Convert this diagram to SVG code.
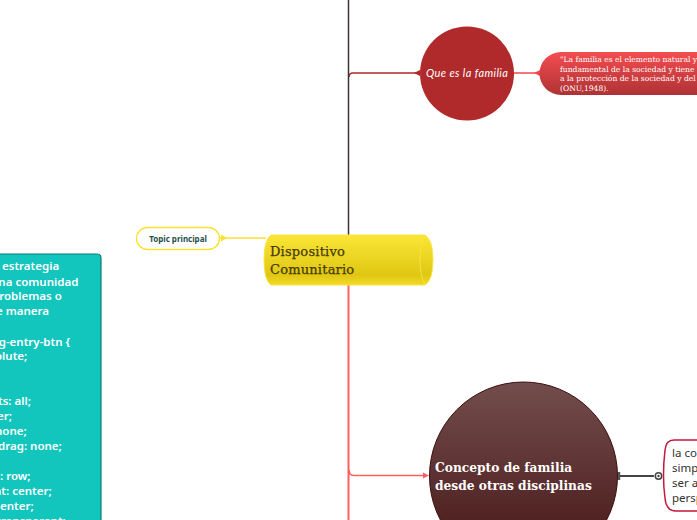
<svg xmlns="http://www.w3.org/2000/svg" width="697" height="520" viewBox="0 0 697 520">
<style>
.conn{fill:none;stroke-width:1.5}
.teal{font:600 11.5px "Noto Sans","Open Sans",sans-serif;fill:#fff}
.quote{font:7.6px "DejaVu Serif","Liberation Serif",serif;fill:#fff}
.main{font:13px "DejaVu Serif",serif;fill:#4a4008;stroke:#3a3208;stroke-width:.25;letter-spacing:.2px}
.conc{font:bold 13.600px "DejaVu Serif Condensed","DejaVu Serif",serif;fill:#fff}
.lc{font:11.5px "Noto Sans","Open Sans",sans-serif;fill:#333}
</style>
<defs>
<linearGradient id="gy" x1="0" y1="0" x2="0" y2="1"><stop offset="0" stop-color="#fbe636"/><stop offset="0.8" stop-color="#e0c714"/><stop offset="1" stop-color="#f2d925"/></linearGradient>
<linearGradient id="gr" x1="0" y1="0" x2="0" y2="1"><stop offset="0" stop-color="#f44d50"/><stop offset="1" stop-color="#ae3234"/></linearGradient>
<linearGradient id="gb" x1="0" y1="0" x2="0" y2="1"><stop offset="0" stop-color="#734d4d"/><stop offset="1" stop-color="#451414"/></linearGradient>
</defs>
<g id="connectors">
<path d="M349 77Q349 73 353 73H416" stroke="#b02a2c" class="conn"/>
<path d="M348.500 0V236" stroke="#3a3030" class="conn"/>
<path d="M348.500 285V520" stroke="#ff5f5f" fill="none" stroke-width="2"/>
<path d="M414 73L420 70V76Z" fill="#b02a2c"/>
<path d="M514 73H540" stroke="#f4474a" class="conn"/>
<path d="M534 73L540 70V76Z" fill="#f4474a"/>
<path d="M220 238H266" stroke="#fbe22e" class="conn"/>
<path d="M221 234.500L227 238L221 241.500Z" fill="#fbe22e"/>
<path d="M349 470Q349 475.500 354 475.500H424" stroke="#ff5f5f" class="conn"/>
<path d="M423 472.500L429 475.500L423 478.500Z" fill="#ff5f5f"/>
<path d="M619 476H654" stroke="#444" stroke-width="2" fill="none"/>
<path d="M619 472V480" stroke="#555" stroke-width="2.500" fill="none"/>
<circle cx="658.500" cy="476" r="3.200" fill="#fff" stroke="#444" stroke-width="1.500"/>
<circle cx="658.500" cy="476" r="1.200" fill="#444"/>
</g>
<g id="node-familia">
<circle cx="467" cy="73.500" r="47" fill="#b0292b"/>
<text x="426" y="77" font-family="Lato,'Noto Sans',sans-serif" font-style="italic" font-size="11" letter-spacing=".4" fill="#fff">Que es la familia</text>
</g>
<g id="node-quote">
<path d="M561 52H697V95H561A21.500 21.500 0 0 1 561 52Z" fill="url(#gr)"/>
<text class="quote"><tspan x="560" y="62">"La familia es el elemento natural y</tspan><tspan x="560" y="72">fundamental de la sociedad y tiene</tspan><tspan x="560" y="81">a la protección de la sociedad y del</tspan><tspan x="560" y="91">(ONU,1948).</tspan></text>
</g>
<g id="node-topic">
<rect x="136.500" y="227.500" width="83" height="22" rx="11" fill="#fff" stroke="#fbe22e" stroke-width="1.300"/>
<text x="178" y="241.500" text-anchor="middle" font-family="'Noto Sans',sans-serif" font-weight="700" font-size="8" fill="#1f4f4a">Topic principal</text>
</g>
<g id="node-main">
<path d="M271 235H425Q433 240 433 260T425 285H271Q264 280 264 260T271 235Z" fill="url(#gy)" stroke="#f8e640" stroke-width="1"/>
<path d="M425 235Q420 245 420 260T425 285" fill="none" stroke="#f6e53c" stroke-width="1"/>
<text class="main"><tspan x="270" y="256">Dispositivo</tspan><tspan x="270" y="274">Comunitario</tspan></text>
</g>
<g id="node-concepto">
<circle cx="523.500" cy="476" r="94" fill="url(#gb)" stroke="#3c0d0d" stroke-width="1"/>
<text class="conc"><tspan x="435" y="472">Concepto de familia</tspan><tspan x="435" y="490">desde otras disciplinas</tspan></text>
</g>
<g id="node-right">
<path d="M697 440H674Q666 440 665 450Q662 476 665 498Q666 511 676 511H697" fill="#fff" stroke="#c4183c" stroke-width="1.500"/>
<text class="lc"><tspan x="672" y="457">la co</tspan><tspan x="672" y="472">simp</tspan><tspan x="672" y="487">ser a</tspan><tspan x="672" y="502">persp</tspan></text>
</g>
<g id="node-teal">
<path d="M-5 254H97Q101 254 101 258V525H-5Z" fill="#12c5bd" stroke="#0b7d78" stroke-width="1.200"/>
<text class="teal"><tspan x="2" y="270">estrategia</tspan><tspan x="-9" y="285.500">una comunidad</tspan><tspan x="-8" y="300">problemas o</tspan><tspan x="-4" y="315">e manera</tspan><tspan x="-8" y="346">ag-entry-btn {</tspan><tspan x="-5" y="360">olute;</tspan><tspan x="-2" y="405">ts: all;</tspan><tspan x="-3" y="420">er;</tspan><tspan x="-5" y="435">none;</tspan><tspan x="-2" y="450">drag: none;</tspan><tspan x="0" y="480">: row;</tspan><tspan x="-6" y="495">nt: center;</tspan><tspan x="0" y="510">enter;</tspan><tspan x="-4" y="525">transparent;</tspan></text>
</g>
</svg>
